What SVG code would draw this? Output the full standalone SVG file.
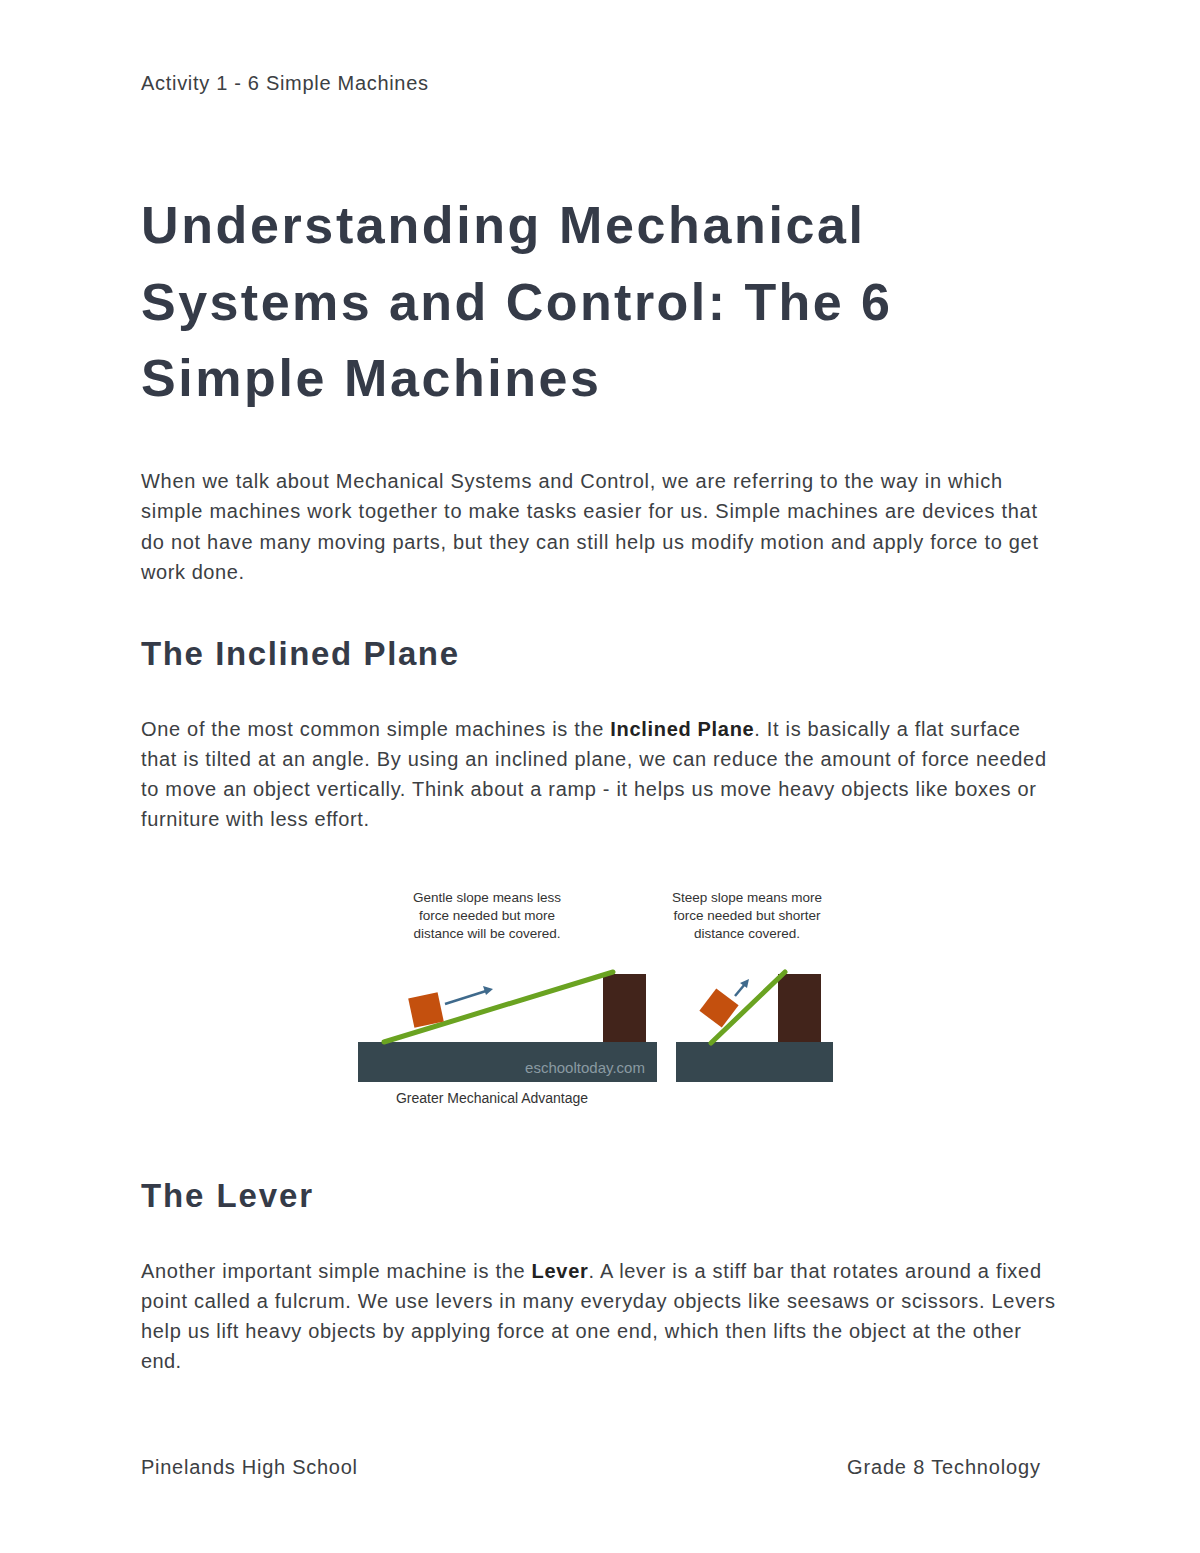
<svg xmlns="http://www.w3.org/2000/svg" width="1200" height="1553" viewBox="0 0 1200 1553">
<style>
.b{font-family:"Liberation Sans",Arial,sans-serif;font-size:20px;fill:#3c4043}
.h{font-family:"Liberation Sans",Arial,sans-serif;font-weight:bold;fill:#353b48}
.t{font-family:"Liberation Sans",Arial,sans-serif;font-weight:bold;font-size:52px;fill:#353b48}
.s{font-family:"Liberation Sans",Arial,sans-serif;font-size:13.5px;fill:#333;text-anchor:middle}
.bb{font-weight:bold;fill:#222}
</style>
<rect width="1200" height="1553" fill="#fff"/>
<text class="b" x="141" y="90" textLength="287" lengthAdjust="spacing">Activity 1 - 6 Simple Machines</text>
<text class="t" x="141" y="243" textLength="722" lengthAdjust="spacing">Understanding Mechanical</text>
<text class="t" x="141" y="320" textLength="749" lengthAdjust="spacing">Systems and Control: The 6</text>
<text class="t" x="141" y="396" textLength="458" lengthAdjust="spacing">Simple Machines</text>
<text class="b" x="141" y="488" textLength="861" lengthAdjust="spacing">When we talk about Mechanical Systems and Control, we are referring to the way in which</text>
<text class="b" x="141" y="518" textLength="896" lengthAdjust="spacing">simple machines work together to make tasks easier for us. Simple machines are devices that</text>
<text class="b" x="141" y="549" textLength="897" lengthAdjust="spacing">do not have many moving parts, but they can still help us modify motion and apply force to get</text>
<text class="b" x="141" y="579" textLength="103" lengthAdjust="spacing">work done.</text>
<text class="h" x="141" y="665" font-size="33" textLength="317" lengthAdjust="spacing">The Inclined Plane</text>
<text class="b" x="141" y="736" textLength="879" lengthAdjust="spacing">One of the most common simple machines is the <tspan class="bb">Inclined Plane</tspan>. It is basically a flat surface</text>
<text class="b" x="141" y="766" textLength="905" lengthAdjust="spacing">that is tilted at an angle. By using an inclined plane, we can reduce the amount of force needed</text>
<text class="b" x="141" y="796" textLength="895" lengthAdjust="spacing">to move an object vertically. Think about a ramp - it helps us move heavy objects like boxes or</text>
<text class="b" x="141" y="826" textLength="228" lengthAdjust="spacing">furniture with less effort.</text>
<g id="illustration">
<text class="s" x="487" y="902">Gentle slope means less</text>
<text class="s" x="487" y="920">force needed but more</text>
<text class="s" x="487" y="938">distance will be covered.</text>
<text class="s" x="747" y="902">Steep slope means more</text>
<text class="s" x="747" y="920">force needed but shorter</text>
<text class="s" x="747" y="938">distance covered.</text>
<rect x="358" y="1042" width="299" height="40" fill="#36474f"/>
<rect x="676" y="1042" width="157" height="40" fill="#36474f"/>
<rect x="603" y="974" width="43" height="68" fill="#42241b"/>
<rect x="778" y="974" width="43" height="68" fill="#42241b"/>
<line x1="384" y1="1042" x2="613" y2="972" stroke="#6aa321" stroke-width="5" stroke-linecap="round"/>
<line x1="711" y1="1043" x2="785" y2="972" stroke="#6aa321" stroke-width="5" stroke-linecap="round"/>
<rect x="-15" y="-15" width="30" height="30" fill="#c4500e" transform="translate(426,1010) rotate(-12)"/>
<rect x="-14" y="-14" width="28" height="28" fill="#c4500e" transform="translate(719,1008) rotate(37)"/>
<g stroke="#3f6a8c" stroke-width="2.5" fill="#3f6a8c">
<line x1="445" y1="1004" x2="486" y2="991"/>
<polygon points="493,989 483,986 486,995" stroke="none"/>
<line x1="735" y1="996" x2="745" y2="984"/>
<polygon points="749,979 740,983 747,988" stroke="none"/>
</g>
<text x="585" y="1073" font-family="Liberation Sans,Arial,sans-serif" font-size="15" fill="#8a9aa2" text-anchor="middle">eschooltoday.com</text>
<text x="492" y="1103" font-family="Liberation Sans,Arial,sans-serif" font-size="14" fill="#333" text-anchor="middle">Greater Mechanical Advantage</text>
</g>
<text class="h" x="141" y="1207" font-size="33" textLength="171" lengthAdjust="spacing">The Lever</text>
<text class="b" x="141" y="1278" textLength="900" lengthAdjust="spacing">Another important simple machine is the <tspan class="bb">Lever</tspan>. A lever is a stiff bar that rotates around a fixed</text>
<text class="b" x="141" y="1308" textLength="914" lengthAdjust="spacing">point called a fulcrum. We use levers in many everyday objects like seesaws or scissors. Levers</text>
<text class="b" x="141" y="1338" textLength="880" lengthAdjust="spacing">help us lift heavy objects by applying force at one end, which then lifts the object at the other</text>
<text class="b" x="141" y="1368" textLength="40" lengthAdjust="spacing">end.</text>
<text class="b" x="141" y="1474" textLength="216" lengthAdjust="spacing">Pinelands High School</text>
<text class="b" x="847" y="1474" textLength="193" lengthAdjust="spacing">Grade 8 Technology</text>
</svg>
